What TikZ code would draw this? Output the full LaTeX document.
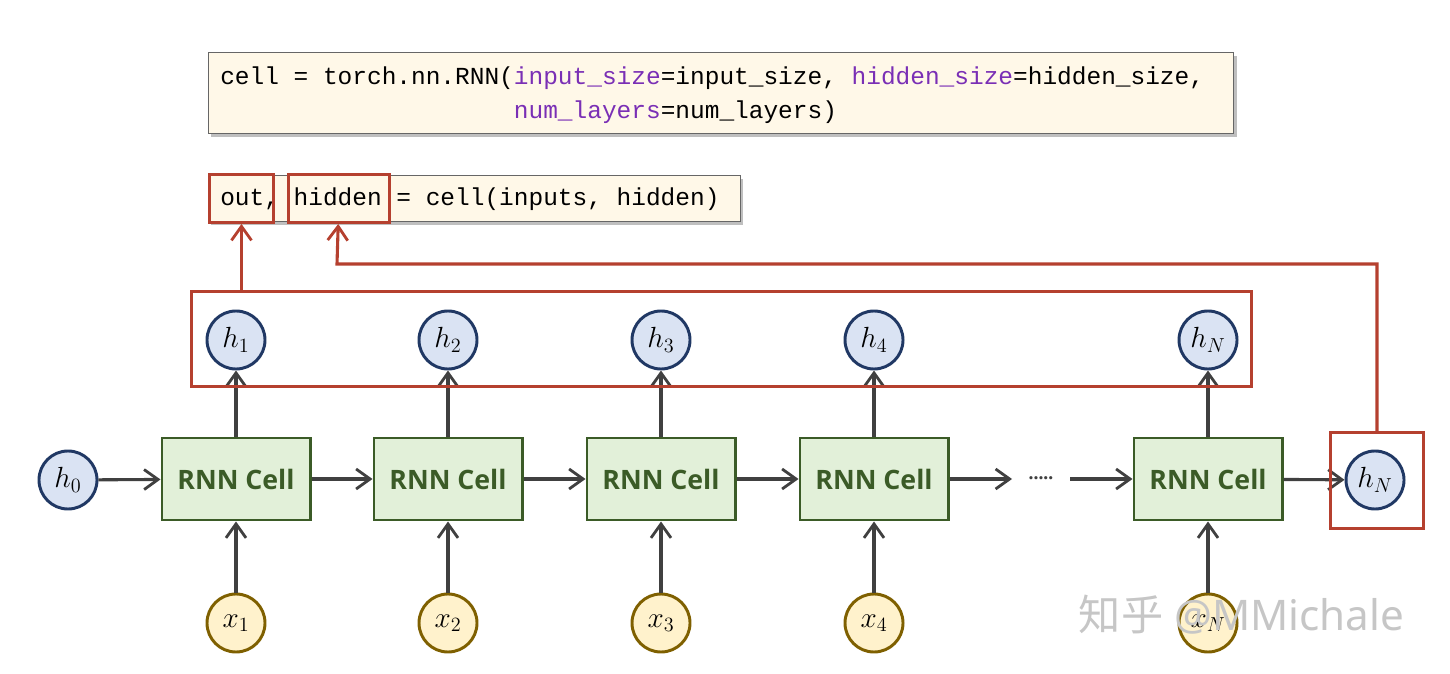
\documentclass[tikz,border=0pt]{standalone}
\usepackage{fontspec}
\setmainfont{Liberation Serif}
\newfontfamily\codefont{Liberation Mono}
\newfontfamily\cellfont{Open Sans}
\newfontfamily\wmfont{Noto Sans}
\newfontfamily\cjk{Noto Sans CJK SC}
\usetikzlibrary{arrows.meta,positioning,shadows}
\definecolor{cellfill}{HTML}{E2F0D9}
\definecolor{celldraw}{HTML}{3B5B27}
\definecolor{hfill}{HTML}{DAE3F3}
\definecolor{hdraw}{HTML}{203864}
\definecolor{xfill}{HTML}{FFF2CC}
\definecolor{xdraw}{HTML}{7F6000}
\definecolor{hlred}{HTML}{B5402F}
\definecolor{codefill}{HTML}{FFF8E8}
\definecolor{kwpurple}{HTML}{7A2FB5}
\definecolor{arrgray}{HTML}{404040}
\begin{document}
\begin{tikzpicture}[x=0.025cm, y=-0.025cm,
  cell/.style={draw=celldraw, fill=cellfill, line width=2.1pt, minimum width=3.7cm, minimum height=2.05cm, font=\cellfont\fontsize{19}{22}\selectfont\bfseries, text=celldraw},
  hst/.style={circle, draw=hdraw, fill=hfill, line width=2.1pt, minimum size=1.45cm, inner sep=0pt, font=\fontsize{21}{23}\selectfont},
  xin/.style={circle, draw=xdraw, fill=xfill, line width=2.1pt, minimum size=1.45cm, inner sep=0pt, font=\fontsize{21}{23}\selectfont},
  code/.style={draw=gray!80!black, fill=codefill, line width=0.7pt, drop shadow={shadow xshift=2pt, shadow yshift=-2.5pt, opacity=0.5}},
  redbox/.style={draw=hlred, line width=2.1pt},
  arr/.style={-{Straight Barb[length=3.5mm,width=5mm,line width=2pt]}, line width=2.2pt, draw=arrgray},
  redarr/.style={-{Straight Barb[length=3.5mm,width=5mm,line width=2pt]}, line width=2.2pt, draw=hlred},
]
  \useasboundingbox (0,0) rectangle (1450,674);

  % code boxes
  \node[code, minimum width=25.625cm, minimum height=2.025cm, anchor=north west] (ctor) at (208,52) {};
  \node[anchor=west, font=\codefont\fontsize{17.4}{21}\selectfont, inner sep=0pt] (ln1) at (220,78)
    {cell = torch.nn.RNN(\textcolor{kwpurple}{input\_size}=input\_size, \textcolor{kwpurple}{hidden\_size}=hidden\_size,};
  \node[anchor=west, font=\codefont\fontsize{17.4}{21}\selectfont, inner sep=0pt] (ln2) at (220,112)
    {\phantom{cell = torch.nn.RNN(}\textcolor{kwpurple}{num\_layers}=num\_layers)};
  \node[code, minimum width=13.3cm, minimum height=1.15cm, anchor=north west] (call) at (208,175) {};
  \node[anchor=west, font=\codefont\fontsize{17.4}{21}\selectfont, inner sep=0pt] (calltxt) at (220,199)
    {out, hidden = cell(inputs, hidden)};
  \node[redbox, anchor=north west, minimum width=1.6cm, minimum height=1.2cm] (outbox) at (208,173) {};
  \node[redbox, anchor=north west, minimum width=2.525cm, minimum height=1.2cm] (hidbox) at (287,173) {};

  % unrolled cells
  \node[hst] (h0) at (68,480) {$h_0$};
  \foreach \i/\x/\s in {1/236/1,2/448/2,3/661/3,4/874/4,5/1208/N} {
    \node[cell] (c\i) at (\x,479) {RNN Cell};
    \node[hst] (h\i) at (\x,340) {$h_{\s}$};
    \node[xin] (x\i) at (\x,623) {$x_{\s}$};
    \draw[arr] (c\i) -- (h\i);
    \draw[arr] (x\i) -- (c\i);
  }
  \node[hst] (hN) at (1375,480) {$h_N$};
  \node[font=\bfseries\fontsize{14}{14}\selectfont, text=arrgray] (dots) at (1041,478) {.....};
  \coordinate (dotin) at (1012,479);
  \coordinate (dotout) at (1070,479);

  \draw[arr] (h0) -- (c1);
  \draw[arr] (c1) -- (c2);
  \draw[arr] (c2) -- (c3);
  \draw[arr] (c3) -- (c4);
  \draw[arr] (c4) -- (dotin);
  \draw[arr] (dotout) -- (c5);
  \draw[arr] (c5) -- (hN);

  % highlight boxes
  \node[redbox, anchor=north west, minimum width=26.5cm, minimum height=2.375cm] (outs) at (190,290) {};
  \node[redbox, anchor=north west, minimum width=2.325cm, minimum height=2.4cm] (last) at (1329,431) {};
  \draw[redarr] (outs.north -| outbox) -- (outbox);
  \draw[redarr] (last.north) |- (337,264) -- (hidbox);

  % watermark
  \node[text=gray!45, font=\wmfont\fontsize{30}{32}\selectfont, anchor=west] (wm) at (1074,615) {{\cjk 知乎} @MMichale};
\end{tikzpicture}
\end{document}
